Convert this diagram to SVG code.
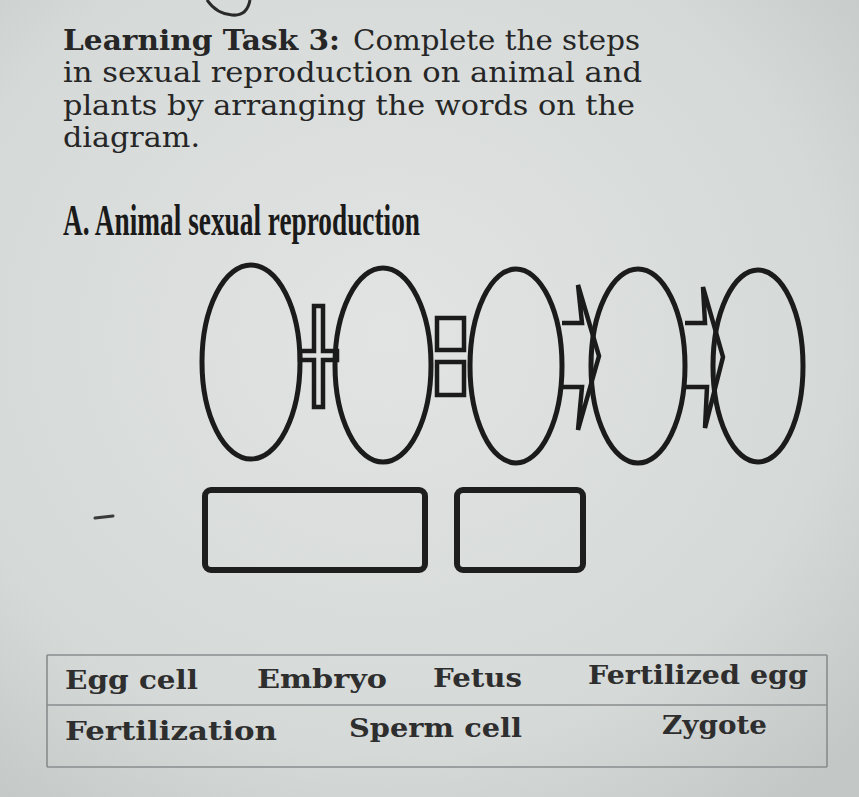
<svg xmlns="http://www.w3.org/2000/svg" width="859" height="797" viewBox="0 0 859 797">
<defs>
<radialGradient id="paper" cx="0.45" cy="0.42" r="0.75">
<stop offset="0" stop-color="#e1e4e2"/>
<stop offset="0.7" stop-color="#d5d9d8"/>
<stop offset="1" stop-color="#c3c8c7"/>
</radialGradient>
<style>
.ink{fill:none;stroke:#1b1b1b;stroke-width:5;stroke-linejoin:round}
.box{fill:none;stroke:#1e1e1e;stroke-width:6}
.conn{fill:none;stroke:#1b1b1b;stroke-width:4.5;stroke-linejoin:miter}
.title{font-family:"DejaVu Serif","Liberation Serif",serif;font-size:27px;fill:#262626}
.head{font-family:"Liberation Serif","DejaVu Serif",serif;font-size:45px;font-weight:bold;fill:#1a1a1a}
.word{font-family:"DejaVu Serif","Liberation Serif",serif;font-size:26px;font-weight:bold;fill:#2e2e2e}
.rule{stroke:#8a8c8c;stroke-width:1.6;fill:none}
</style>
</defs>
<rect x="0" y="0" width="859" height="797" fill="url(#paper)"/>
<path d="M207,0 C213,9 220,14 232,15 C242,16 248,11 250,0" fill="none" stroke="#2a2a2a" stroke-width="3"/>
<line x1="95" y1="518" x2="113" y2="516" stroke="#3a3a3a" stroke-width="3" stroke-linecap="round"/>
<g id="title">
<text class="title" x="63" y="50" font-weight="bold" textLength="277" lengthAdjust="spacingAndGlyphs">Learning Task 3:</text>
<text class="title" x="353" y="50" textLength="287" lengthAdjust="spacingAndGlyphs">Complete the steps</text>
<text class="title" x="63" y="82" textLength="579" lengthAdjust="spacingAndGlyphs">in sexual reproduction on animal and</text>
<text class="title" x="63" y="115" textLength="572" lengthAdjust="spacingAndGlyphs">plants by arranging the words on the</text>
<text class="title" x="63" y="147" textLength="137" lengthAdjust="spacingAndGlyphs">diagram.</text>
</g>
<g id="heading">
<text class="head" x="63" y="235" textLength="357" lengthAdjust="spacingAndGlyphs">A. Animal sexual reproduction</text>
</g>
<g id="connectors">
<path class="conn" stroke-width="6" d="M314,306 L323,306 L323,351 L337,351 L337,360 L323,360 L323,407 L314,407 L314,360 L300,360 L300,351 L314,351 Z" fill="#f4f4f2"/>
<rect class="conn" x="437" y="318" width="27" height="32" stroke-width="8"/>
<rect class="conn" x="437" y="362" width="27" height="33" stroke-width="8"/>
<path class="conn" d="M562,323 L582,323 L578,285 L599,356 L578,430 L582,387 L562,387"/>
<path class="conn" d="M685,323 L705,323 L703,287 L723,357 L705,428 L707,387 L685,387"/>
</g>
<g id="egg-cell-oval"><ellipse class="ink" cx="251" cy="362" rx="49" ry="97"/></g>
<g id="sperm-cell-oval"><ellipse class="ink" cx="383" cy="365" rx="48" ry="97"/></g>
<g id="zygote-oval"><ellipse class="ink" cx="516" cy="366" rx="46" ry="97"/></g>
<g id="embryo-oval"><ellipse class="ink" cx="638" cy="366" rx="47" ry="97"/></g>
<g id="fetus-oval"><ellipse class="ink" cx="758" cy="366" rx="45" ry="96"/></g>
<g id="box-fertilization"><rect class="box" x="205" y="490" width="220" height="80" rx="6"/></g>
<g id="box-second"><rect class="box" x="457" y="490" width="126" height="80" rx="6"/></g>
<g id="word-bank">
<line class="rule" x1="47" y1="655" x2="827" y2="655"/>
<line class="rule" x1="47" y1="705" x2="827" y2="705"/>
<line class="rule" x1="47" y1="767" x2="827" y2="767"/>
<line class="rule" x1="47" y1="655" x2="47" y2="767"/>
<line class="rule" x1="827" y1="655" x2="827" y2="767"/>
<text class="word" x="65" y="689" textLength="133" lengthAdjust="spacingAndGlyphs">Egg cell</text>
<text class="word" x="257" y="688" textLength="130" lengthAdjust="spacingAndGlyphs">Embryo</text>
<text class="word" x="433" y="687" textLength="89" lengthAdjust="spacingAndGlyphs">Fetus</text>
<text class="word" x="588" y="684" textLength="220" lengthAdjust="spacingAndGlyphs">Fertilized egg</text>
<text class="word" x="65" y="740" textLength="212" lengthAdjust="spacingAndGlyphs">Fertilization</text>
<text class="word" x="349" y="737" textLength="173" lengthAdjust="spacingAndGlyphs">Sperm cell</text>
<text class="word" x="662" y="734" textLength="105" lengthAdjust="spacingAndGlyphs">Zygote</text>
</g>
</svg>
